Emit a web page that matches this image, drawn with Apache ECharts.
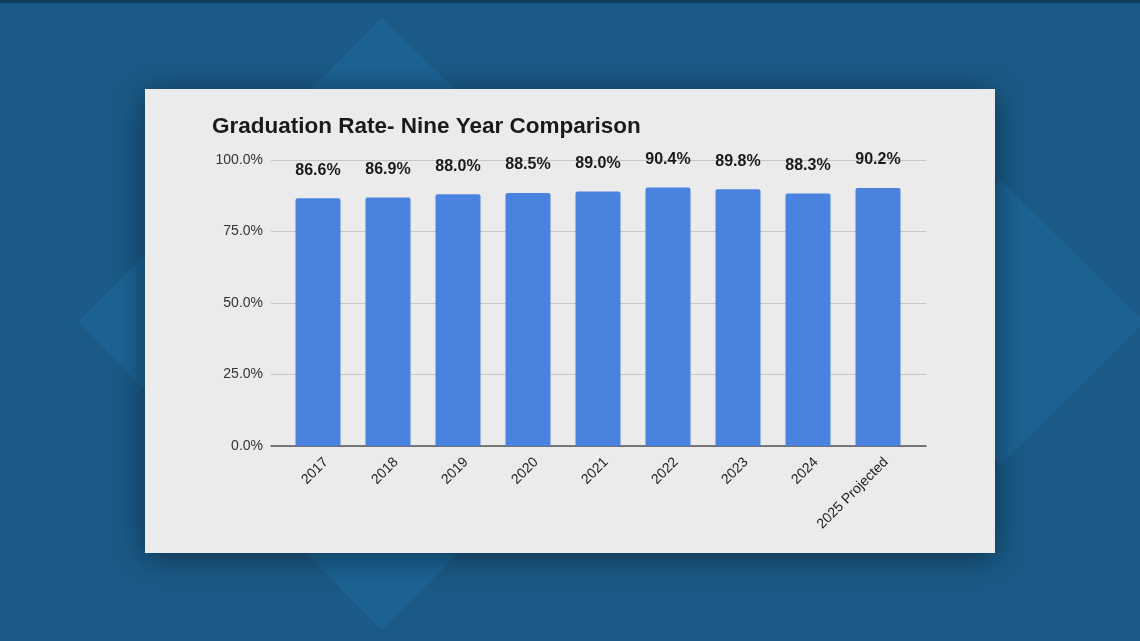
<!DOCTYPE html>
<html>
<head>
<meta charset="utf-8">
<script src="https://cdn.jsdelivr.net/npm/echarts@6/dist/echarts.min.js"></script>
<style>
html, body { margin: 0; padding: 0; }
#grafico { width: 1140px; height: 641px; }
</style>
</head>
<body>
<div id="grafico"></div>
<script>
// datos
const years = ['2017', '2018', '2019', '2020', '2021', '2022', '2023', '2024', '2025 Projected']
const rates = [86.6, 86.9, 88.0, 88.5, 89.0, 90.4, 89.8, 88.3, 90.2]
const yTicks = [0, 25, 50, 75, 100]

let myChart = echarts.init(document.getElementById('grafico'))

let option = {
  backgroundColor: '#1b5a87',
  animation: false,
  textStyle: { fontFamily: 'Liberation Sans, Arial, sans-serif' },
  title: {
    text: 'Graduation Rate- Nine Year Comparison',
    left: 207,
    top: 110,
    textStyle: { fontSize: 22.5, fontWeight: 'bold', color: '#1a1a1a' }
  },
  graphic: [
    { type: 'rect', z: -100, shape: { x: 0, y: 0, width: 1140, height: 3 }, style: { fill: '#123c5c' } },
    {
      type: 'polygon', z: -99,
      shape: { points: [[382, 18], [690, 320], [382, 630], [78, 322]] },
      style: { fill: 'rgba(30,110,165,0.45)' }
    },
    {
      type: 'polygon', z: -99,
      shape: { points: [[1000, 180], [1145, 322], [1000, 465], [860, 322]] },
      style: { fill: 'rgba(30,110,165,0.45)' }
    },
    {
      type: 'rect', z: -90,
      shape: { x: 145, y: 89, width: 850, height: 464 },
      style: { fill: '#ebebeb', shadowBlur: 30, shadowColor: 'rgba(0,0,0,0.45)', shadowOffsetY: 4 }
    }
  ],
  grid: [
    { left: 283, width: 630, top: 160, height: 286 },
    { left: 271, width: 655, top: 160, height: 286 },
    { left: 291, width: 630, top: 160, height: 286 }
  ],
  xAxis: [
    {
      type: 'category',
      gridIndex: 0,
      data: years,
      axisLine: { show: false },
      axisTick: { show: false },
      axisLabel: { show: false }
    },
    {
      type: 'category',
      gridIndex: 1,
      data: [''],
      axisLine: { show: true, lineStyle: { color: '#555', width: 1.5 } },
      axisTick: { show: false },
      axisLabel: { show: false }
    },
    {
      // solo para las etiquetas giradas
      type: 'category',
      gridIndex: 2,
      data: years,
      axisLine: { show: false },
      axisTick: { show: false },
      axisLabel: { interval: 0, rotate: 45, margin: 14, fontSize: 14, color: '#222' }
    }
  ],
  yAxis: [
    {
      type: 'value',
      gridIndex: 0,
      min: 0,
      max: 100,
      interval: 25,
      show: false,
      splitLine: { show: false }
    },
    {
      type: 'value',
      gridIndex: 1,
      min: yTicks[0],
      max: yTicks[yTicks.length - 1],
      interval: 25,
      axisLine: { show: false },
      axisTick: { show: false },
      axisLabel: { margin: 8, fontSize: 14, color: '#333', formatter: v => v.toFixed(1) + '%' },
      splitLine: { lineStyle: { color: '#c6c6c6' } }
    },
    {
      type: 'value',
      gridIndex: 2,
      min: 0,
      max: 100,
      show: false,
      splitLine: { show: false }
    }
  ],
  series: [
    {
      name: 'Graduation Rate',
      type: 'bar',
      xAxisIndex: 0,
      yAxisIndex: 0,
      data: rates,
      barWidth: 45,
      z: 3,
      itemStyle: { color: '#4a82df', borderRadius: [2, 2, 0, 0] },
      label: {
        show: true,
        position: 'top',
        distance: 20,
        fontSize: 16,
        fontWeight: 'bold',
        color: '#1a1a1a',
        formatter: p => p.value.toFixed(1) + '%'
      }
    }
  ]
}

myChart.setOption(option)
</script>
</body>
</html>
